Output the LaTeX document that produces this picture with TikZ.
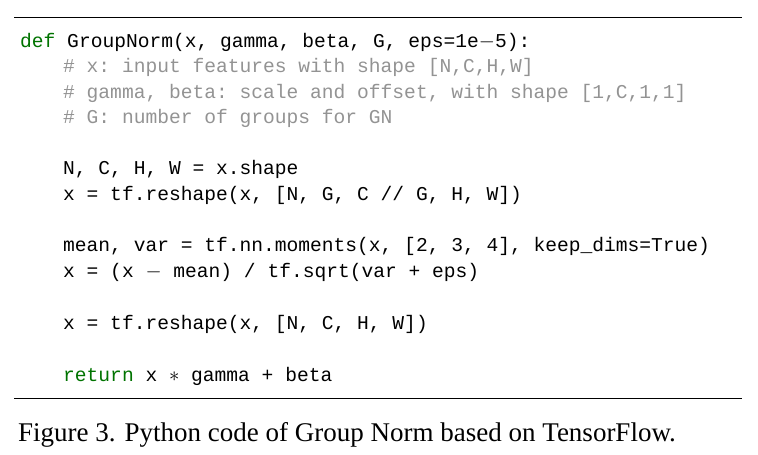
\documentclass[tikz,border=0pt]{standalone}
\usepackage{fontspec}
\setmainfont{Liberation Serif}
\setmonofont{Liberation Mono}
\begin{document}
\begin{tikzpicture}[x=1pt,y=-1pt,
  code/.style={anchor=base west,inner sep=0pt,font=\fontsize{19.6}{24}\ttfamily},
  cmt/.style={code,text=gray!85},
  kw/.style={text=green!45!black}]
\useasboundingbox (0,0) rectangle (758,455);
\draw[line width=1pt] (14,17) -- (742,17);
\draw[line width=1pt] (14,398) -- (742,398);
\node[code] (l1) at (20,47) {\textcolor{green!45!black}{def} GroupNorm(x, gamma, beta, G, eps=1e$-$5):};
\node[cmt] (l2) at (63,72) {\# x: input features with shape [N,C,H,W]};
\node[cmt] (l3) at (63,98) {\# gamma, beta: scale and offset, with shape [1,C,1,1]};
\node[cmt] (l4) at (63,123) {\# G: number of groups for GN};
\node[code] (l5) at (63,174) {N, C, H, W = x.shape};
\node[code] (l6) at (63,200) {x = tf.reshape(x, [N, G, C // G, H, W])};
\node[code] (l7) at (63,251) {mean, var = tf.nn.moments(x, [2, 3, 4], keep\_dims=True)};
\node[code] (l8) at (63,277) {x = (x $-$ mean) / tf.sqrt(var + eps)};
\node[code] (l9) at (63,329) {x = tf.reshape(x, [N, C, H, W])};
\node[code] (l10) at (63,381) {\textcolor{green!45!black}{return} x $*$ gamma + beta};
\node[anchor=base west,inner sep=0pt,font=\fontsize{27}{32}\selectfont] (cap) at (18,441) {Figure 3. Python code of Group Norm based on TensorFlow.};
\end{tikzpicture}
\end{document}
